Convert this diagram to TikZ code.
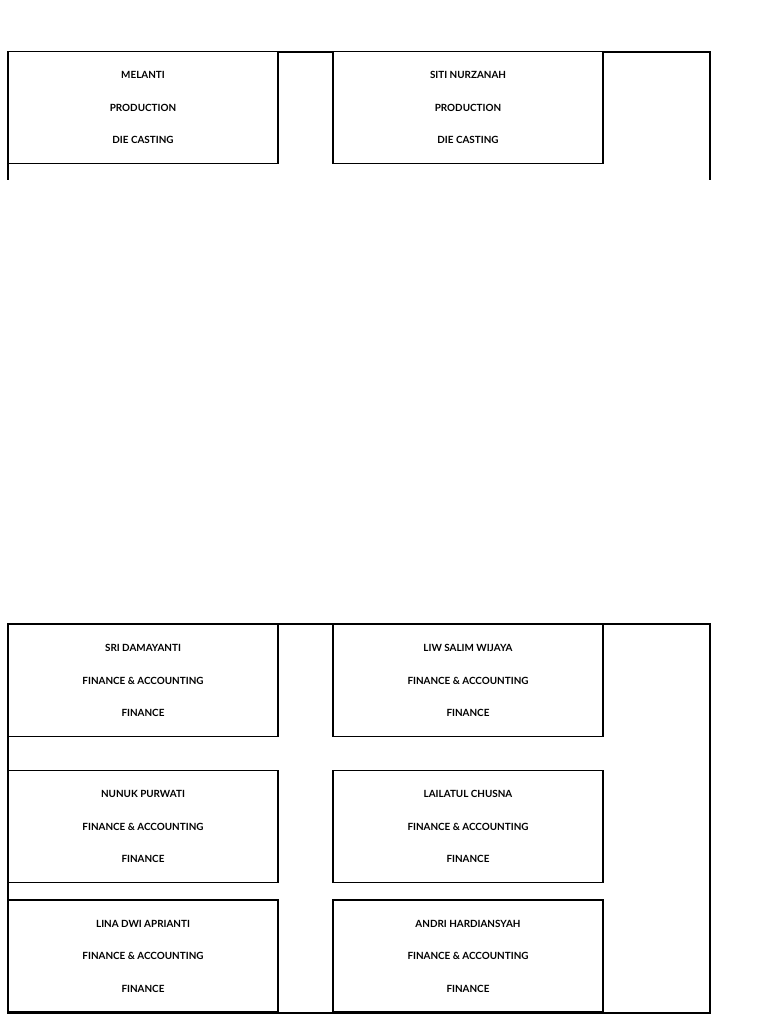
\documentclass[tikz,border=0pt]{standalone}
\usepackage{fontspec}
\setmainfont{Lato}
\begin{document}
\begin{tikzpicture}[x=1pt,y=-1pt,
  card/.style={draw=black, line width=1.7pt, fill=white, minimum width=270pt, minimum height=112pt, inner sep=0pt, align=center, font=\bfseries\fontsize{9.9}{32.5}\selectfont},
  frame/.style={draw=black, line width=1.7pt}]
\useasboundingbox (0,0) rectangle (768,1024);
% top section frame
\draw[frame] (8,180) -- (8,52) -- (710,52) -- (710,180);
% bottom section frame
\draw[frame] (8,624) rectangle (710,1013);
% top cards
\node[card] (melanti) at (143,107.5) {MELANTI\\PRODUCTION\\DIE CASTING};
\node[card] (siti) at (468,107.5) {SITI NURZANAH\\PRODUCTION\\DIE CASTING};
% bottom cards
\node[card] (sri) at (143,680.5) {SRI DAMAYANTI\\FINANCE \& ACCOUNTING\\FINANCE};
\node[card] (liw) at (468,680.5) {LIW SALIM WIJAYA\\FINANCE \& ACCOUNTING\\FINANCE};
\node[card] (nunuk) at (143,826.5) {NUNUK PURWATI\\FINANCE \& ACCOUNTING\\FINANCE};
\node[card] (lailatul) at (468,826.5) {LAILATUL CHUSNA\\FINANCE \& ACCOUNTING\\FINANCE};
\node[card] (lina) at (143,956) {LINA DWI APRIANTI\\FINANCE \& ACCOUNTING\\FINANCE};
\node[card] (andri) at (468,956) {ANDRI HARDIANSYAH\\FINANCE \& ACCOUNTING\\FINANCE};
\end{tikzpicture}
\end{document}
